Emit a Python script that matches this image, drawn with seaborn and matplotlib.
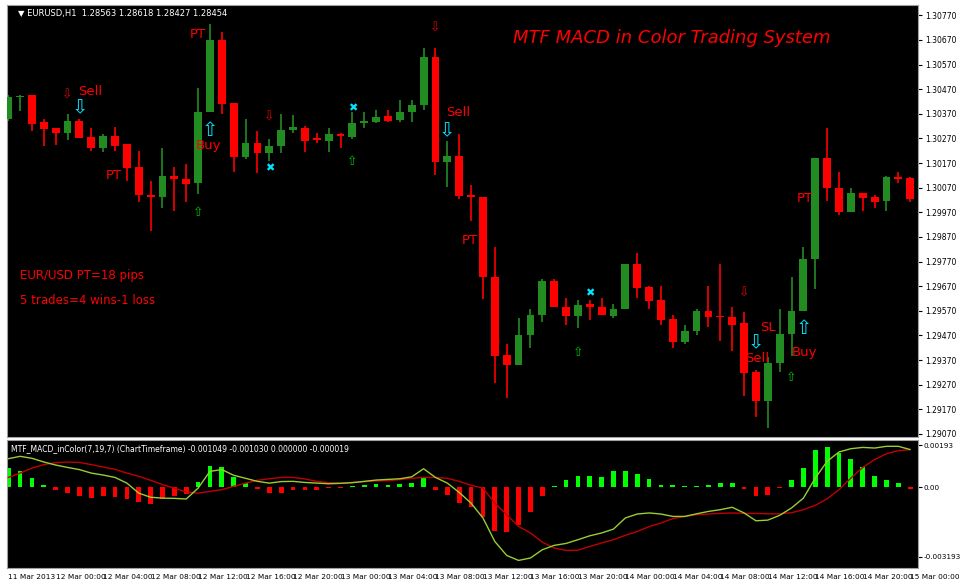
import numpy as np
import pandas as pd
import matplotlib
matplotlib.use("Agg")
import matplotlib.pyplot as plt
import seaborn as sns

# ---- data ----
opens = [1.30348,1.30437,1.30445,1.30336,1.30311,1.30291,1.30340,1.30275,1.30230,1.30279,
         1.30246,1.30153,1.30039,1.30031,1.30116,1.30104,1.30088,1.30376,1.30669,1.30413,
         1.30193,1.30250,1.30210,1.30238,1.30303,1.30311,1.30271,1.30258,1.30287,1.30275,
         1.30332,1.30336,1.30360,1.30344,1.30376,1.30405,1.30600,1.30173,1.30198,1.30039,
         1.30031,1.29706,1.29390,1.29349,1.29471,1.29552,1.29690,1.29584,1.29548,1.29597,
         1.29584,1.29548,1.29576,1.29759,1.29666,1.29613,1.29536,1.29442,1.29487,1.29568,
         1.29548,1.29544,1.29520,1.29321,1.29203,1.29357,1.29475,1.29568,1.29779,1.30189,
         1.30068,1.29970,1.30047,1.30031,1.30015,1.30112,1.30108]
highs = [1.30445,1.30445,1.30445,1.30348,1.30311,1.30368,1.30348,1.30311,1.30287,1.30315,
         1.30246,1.30218,1.30096,1.30230,1.30153,1.30165,1.30474,1.30733,1.30701,1.30413,
         1.30348,1.30299,1.30267,1.30368,1.30364,1.30319,1.30291,1.30311,1.30291,1.30376,
         1.30376,1.30384,1.30384,1.30425,1.30425,1.30636,1.30636,1.30258,1.30287,1.30080,
         1.30031,1.29828,1.29434,1.29540,1.29576,1.29698,1.29698,1.29621,1.29613,1.29613,
         1.29621,1.29597,1.29759,1.29804,1.29670,1.29670,1.29552,1.29511,1.29576,1.29670,
         1.29759,1.29584,1.29564,1.29329,1.29381,1.29576,1.29706,1.29828,1.30189,1.30311,
         1.30133,1.30068,1.30047,1.30039,1.30116,1.30133,1.30112]
lows = [1.30340,1.30380,1.30299,1.30238,1.30242,1.30262,1.30271,1.30218,1.30214,1.30218,
        1.30096,1.30011,1.29893,1.29986,1.29974,1.30011,1.30043,1.30376,1.30368,1.30133,
        1.30185,1.30129,1.30177,1.30210,1.30291,1.30214,1.30250,1.30214,1.30230,1.30267,
        1.30311,1.30332,1.30336,1.30336,1.30336,1.30384,1.30120,1.30072,1.30023,1.29934,
        1.29617,1.29276,1.29215,1.29349,1.29418,1.29524,1.29584,1.29511,1.29499,1.29532,
        1.29552,1.29540,1.29576,1.29621,1.29576,1.29511,1.29418,1.29434,1.29471,1.29503,
        1.29446,1.29406,1.29223,1.29138,1.29093,1.29321,1.29386,1.29568,1.29658,1.30015,
        1.29958,1.29970,1.29974,1.29986,1.29974,1.30088,1.30011]
closes = [1.30437,1.30441,1.30327,1.30307,1.30291,1.30340,1.30271,1.30230,1.30279,1.30238,
          1.30149,1.30039,1.30031,1.30116,1.30104,1.30084,1.30376,1.30669,1.30409,1.30193,
          1.30250,1.30210,1.30238,1.30303,1.30315,1.30258,1.30262,1.30287,1.30279,1.30332,
          1.30340,1.30356,1.30340,1.30376,1.30405,1.30600,1.30173,1.30198,1.30035,1.30031,
          1.29706,1.29386,1.29349,1.29471,1.29552,1.29690,1.29584,1.29548,1.29593,1.29584,
          1.29552,1.29576,1.29759,1.29662,1.29609,1.29532,1.29442,1.29487,1.29568,1.29544,
          1.29544,1.29511,1.29317,1.29203,1.29357,1.29475,1.29568,1.29779,1.30189,1.30068,
          1.29970,1.30047,1.30027,1.30011,1.30112,1.30104,1.30023]

macd_hist = [0.00087,0.00075,0.00041,0.0001,-0.00015,-0.00028,-0.00043,-0.0005,-0.00043,-0.00046,
             -0.00054,-0.0007,-0.00077,-0.00055,-0.00043,-0.00032,0.00023,0.00098,0.00092,0.00044,
             0.00018,-0.0001,-0.00028,-0.00028,-0.00015,-0.00012,-0.00012,-0.00006,-0.00005,0.00006,
             0.00008,0.00014,0.0001,0.00014,0.00017,0.00041,-0.00015,-0.00038,-0.00074,-0.00092,
             -0.00138,-0.002,-0.00208,-0.00173,-0.00116,-0.00043,0.00003,0.00031,0.00052,0.00052,
             0.00047,0.00075,0.00075,0.00061,0.00038,0.0001,0.00008,0.00003,0.00006,0.0001,
             0.00018,0.00018,-0.00009,-0.0004,-0.00035,-0.00006,0.00031,0.00087,0.00172,0.00184,
             0.00156,0.0013,0.00092,0.00052,0.00031,0.00017,-0.00009]
macd_line = [0.0013,0.00141,0.00132,0.00115,0.00101,0.0009,0.0008,0.00064,0.00055,0.00044,
             0.00018,-0.00028,-0.00047,-0.00051,-0.00052,-0.00055,-0.00005,0.00072,0.0008,0.00054,
             0.0004,0.00026,0.00018,0.00025,0.00026,0.00021,0.00018,0.00015,0.00017,0.0002,
             0.00026,0.00032,0.00035,0.00038,0.00047,0.00084,0.00044,0.00018,-0.00025,-0.00074,
             -0.00142,-0.0025,-0.00314,-0.00337,-0.00326,-0.00288,-0.00268,-0.00259,-0.00242,-0.00224,
             -0.00211,-0.00193,-0.00142,-0.00124,-0.00119,-0.00124,-0.00135,-0.00135,-0.00123,-0.00112,
             -0.00104,-0.00093,-0.00119,-0.00155,-0.00152,-0.0013,-0.00096,-0.00051,0.00041,0.00118,
             0.00161,0.00176,0.00182,0.00179,0.00187,0.00187,0.00172]
signal_line = [0.00044,0.00064,0.00087,0.00103,0.00112,0.00115,0.00113,0.00103,0.00092,0.00081,
               0.00064,0.00049,0.00031,0.00011,-0.00005,-0.00023,-0.00028,-0.0002,-0.00012,0.00003,
               0.00018,0.00031,0.00038,0.00044,0.00044,0.00037,0.00026,0.0002,0.00018,0.00021,
               0.00025,0.00028,0.00029,0.00034,0.0004,0.00044,0.00044,0.0004,0.00026,0.00008,
               -0.00005,-0.00074,-0.00127,-0.00181,-0.00211,-0.00253,-0.0028,-0.00291,-0.0029,-0.00273,
               -0.00257,-0.00242,-0.00222,-0.00204,-0.00182,-0.00165,-0.00145,-0.00135,-0.00127,-0.00124,
               -0.00121,-0.00119,-0.00121,-0.00121,-0.00123,-0.00123,-0.00118,-0.00104,-0.00084,-0.00054,
               -0.00012,0.00041,0.0009,0.00126,0.00153,0.00167,0.00172]

price_ticks = [1.30770,1.30670,1.30570,1.30470,1.30370,1.30270,1.30170,1.30070,1.29970,
               1.29870,1.29770,1.29670,1.29570,1.29470,1.29370,1.29270,1.29170,1.29070]
time_labels = ["11 Mar 2013","12 Mar 00:00","12 Mar 04:00","12 Mar 08:00","12 Mar 12:00",
               "12 Mar 16:00","12 Mar 20:00","13 Mar 00:00","13 Mar 04:00","13 Mar 08:00",
               "13 Mar 12:00","13 Mar 16:00","13 Mar 20:00","14 Mar 00:00","14 Mar 04:00",
               "14 Mar 08:00","14 Mar 12:00","14 Mar 16:00","14 Mar 20:00","15 Mar 00:00"]
macd_ticks = [0.00193, 0.0, -0.003193]
macd_tick_labels = ["0.00193", "0.00", "-0.003193"]

# signal annotations: (bar index, price)
small_down = [(5, 1.30445), (22, 1.30356), (36, 1.30717), (62, 1.29641)]
small_up = [(16, 1.29970), (29, 1.30177), (48, 1.29402), (66, 1.29300)]
big_down = [(6, 1.30393), (37, 1.30303), (63, 1.29438)]
big_up = [(17, 1.30303), (67, 1.29499)]
cross_marks = [(22, 1.30149), (29, 1.30393), (49, 1.29641)]
labels = [(6.9, 1.30461, "Sell"), (16.9, 1.30242, "Buy"), (16.0, 1.30693, "PT"),
          (8.9, 1.30120, "PT"), (37.9, 1.30376, "Sell"), (38.9, 1.29857, "PT"),
          (64.0, 1.29503, "SL"), (63.1, 1.29378, "Sell"), (67.1, 1.29402, "Buy"),
          (67.1, 1.30027, "PT")]

# ---- figure ----
sns.set_style("dark")
fig = plt.figure(figsize=(9.6, 5.82), dpi=100, facecolor="white")
ax = fig.add_axes([0.0073, 0.249, 0.949, 0.742])
ax2 = fig.add_axes([0.0073, 0.024, 0.949, 0.220])
GREEN, RED = "#228B22", "#FF0000"

df = pd.DataFrame({"o": opens, "h": highs, "l": lows, "c": closes})
df["i"] = np.arange(len(df))
df["up"] = df["c"] >= df["o"]
for a in (ax, ax2):
    a.set_facecolor("black")
    for s in a.spines.values():
        s.set_color("#a0a0a0")
    a.grid(False)

cols = np.where(df["up"], GREEN, RED)
ax.vlines(df["i"], df["l"], df["h"], colors=cols, lw=1.2, zorder=2)
bottom = np.minimum(df["o"], df["c"])
height = np.maximum(np.abs(df["c"] - df["o"]), 0.000012)
ax.bar(df["i"], height, bottom=bottom, width=0.66, color=cols, linewidth=0, zorder=3)
ax.set_xlim(-0.1, 76.66)
ax.set_ylim(1.29057, 1.30811)
ax.yaxis.tick_right()
ax.set_yticks(price_ticks)
ax.set_yticklabels([f"{v:.5f}" for v in price_ticks], fontsize=5.5, color="black")
ax.tick_params(axis="y", length=3, color="black", pad=2)
ax.set_xticks([])

ar = dict(ha="center", va="center", family="DejaVu Sans", zorder=5)
for i, p in small_down:
    ax.text(i, p, "\u21e9", color="#e00000", fontsize=9, **ar)
for i, p in small_up:
    ax.text(i, p, "\u21e7", color="#00c000", fontsize=9, **ar)
for i, p in big_down:
    ax.text(i, p, "\u21e9", color="#00e5ff", fontsize=14, **ar)
for i, p in big_up:
    ax.text(i, p, "\u21e7", color="#00e5ff", fontsize=14, **ar)
for i, p in cross_marks:
    ax.text(i, p, "\u2716", color="#00e5ff", fontsize=8, **ar)
for i, p, t in labels:
    ax.text(i, p, t, color=RED, fontsize=9.5, ha="center", va="center", zorder=5)

ax.text(0.012, 0.992, "\u25bc EURUSD,H1  1.28563 1.28618 1.28427 1.28454",
        transform=ax.transAxes, color="white", fontsize=6, va="top", ha="left")
ax.text(0.555, 0.925, "MTF MACD in Color Trading System", transform=ax.transAxes,
        color=RED, fontsize=13, ha="left", va="center", style="italic")
ax.text(0.014, 0.375, "EUR/USD PT=18 pips", transform=ax.transAxes, color=RED,
        fontsize=8.5, ha="left", va="center")
ax.text(0.014, 0.317, "5 trades=4 wins-1 loss", transform=ax.transAxes, color=RED,
        fontsize=8.5, ha="left", va="center")

# ---- MACD panel ----
mdf = pd.DataFrame({"i": np.arange(len(macd_hist)), "hist": macd_hist,
                    "macd": macd_line, "signal": signal_line})
hcols = np.where(mdf["hist"] >= 0, "#00FF00", "#FF0000")
ax2.bar(mdf["i"], mdf["hist"], width=0.4, color=hcols, linewidth=0, zorder=2)
sns.lineplot(data=mdf, x="i", y="signal", ax=ax2, color="#c00000", lw=1, zorder=3)
sns.lineplot(data=mdf, x="i", y="macd", ax=ax2, color="#9ACD32", lw=1, zorder=4)
ax2.set_xlim(-0.1, 76.66)
ax2.set_ylim(-0.00372, 0.00216)
ax2.set_xlabel("")
ax2.set_ylabel("")
ax2.yaxis.tick_right()
ax2.set_yticks(macd_ticks)
ax2.set_yticklabels(macd_tick_labels, fontsize=5.2, color="black")
ax2.tick_params(axis="y", length=3, color="black", pad=1)
ax2.set_xticks(np.arange(0, 4 * len(time_labels), 4))
ax2.set_xticklabels(time_labels, fontsize=5.3, color="black", ha="left")
ax2.tick_params(axis="x", length=3, color="black", pad=1)
ax2.text(0.004, 0.97, "MTF_MACD_inColor(7,19,7) (ChartTimeframe) -0.001049 -0.001030 0.000000 -0.000019",
         transform=ax2.transAxes, color="white", fontsize=5.5, va="top", ha="left")

fig.savefig("out.png", dpi=100, facecolor="white")
